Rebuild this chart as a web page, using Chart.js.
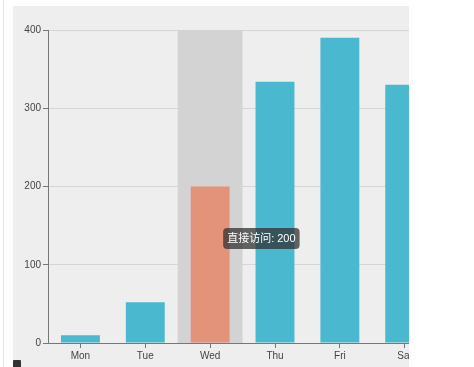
<!DOCTYPE html>
<html>
<head>
<meta charset="utf-8">
<script src="https://cdn.jsdelivr.net/npm/chart.js@4.4.1/dist/chart.umd.min.js"></script>
<style>
    body { margin: 0; background: #fff; width: 474px; height: 367px; position: relative; overflow: hidden; }
    #edge { position: absolute; left: 3px; top: 0; width: 1px; height: 367px; background: #e4e4e4; }
    #panel { position: absolute; left: 13px; top: 6px; width: 396px; height: 361px; background: #eeeeee; overflow: hidden; }
    #box { position: absolute; left: 0; top: 0; width: 489px; height: 361px; }
    #icon { position: absolute; left: 13px; top: 360px; width: 8px; height: 8px; background: #333; border-radius: 1px; }
</style>
</head>
<body>
<div id="edge"></div>
<div id="panel">
    <div id="box"><canvas id="barChart"></canvas></div>
</div>
<div id="icon"></div>
<script>
const days = ['Mon', 'Tue', 'Wed', 'Thu', 'Fri', 'Sat', 'Sun'];
const visits = [10, 52, 200, 334, 390, 330, 220];
const yTicks = [0, 100, 200, 300, 400];
const seriesName = '直接访问';
const hoverIndex = 2;

// grey band behind the hovered category
const shadowBand = {
    id: 'shadowBand',
    beforeDatasetsDraw(chart) {
        const active = chart.getActiveElements();
        if (!active.length) return;
        const xs = chart.scales.x;
        const area = chart.chartArea;
        const bw = xs.width / days.length;
        const ctx = chart.ctx;
        ctx.save();
        ctx.fillStyle = '#d3d3d3';
        active.forEach(a => {
            const cx = xs.getPixelForValue(a.index);
            ctx.fillRect(cx - bw / 2, area.top, bw, area.bottom - area.top);
        });
        ctx.restore();
    }
};

Chart.Tooltip.positioners.nearMouse = function(elements) {
    if (!elements.length) return false;
    const el = elements[0].element;
    return { x: el.x + 13, y: el.y + 52 };
};

const ctx = document.getElementById('barChart').getContext('2d');
const chart = new Chart(ctx, {
    type: 'bar',
    data: {
        labels: days,
        datasets: [{
            label: seriesName,
            data: visits,
            backgroundColor: '#4ab8cf',
            hoverBackgroundColor: '#e2937a',
            borderWidth: 0,
            barPercentage: 0.6,
            categoryPercentage: 1
        }]
    },
    options: {
        responsive: true,
        maintainAspectRatio: false,
        animation: false,
        events: [],
        layout: { padding: { top: 24, left: 0, right: 0, bottom: 0 } },
        plugins: {
            legend: { display: false },
            tooltip: {
                position: 'nearMouse',
                xAlign: 'left',
                yAlign: 'center',
                caretSize: 0,
                caretPadding: 0,
                displayColors: false,
                backgroundColor: 'rgba(50,50,50,0.75)',
                cornerRadius: 4,
                padding: { x: 4, y: 4 },
                bodyFont: { family: 'Liberation Sans, "Noto Sans CJK SC", sans-serif', size: 11 },
                bodyColor: '#fff',
                callbacks: {
                    title: () => '',
                    label: (item) => item.dataset.label + ': ' + item.raw
                }
            }
        },
        scales: {
            x: {
                offset: true,
                afterFit: (s) => { s.height = 24; },
                grid: { display: true, drawOnChartArea: false, offset: false, tickLength: 5, tickColor: '#777' },
                border: { color: '#777' },
                ticks: { color: '#444', padding: 2, font: { family: 'Liberation Sans', size: 10 } }
            },
            y: {
                min: yTicks[0],
                max: yTicks[yTicks.length - 1],
                afterFit: (s) => { s.width = 35; },
                afterBuildTicks: (s) => { s.ticks = yTicks.map(v => ({ value: v })); },
                grid: { color: '#d6d6d6', tickLength: 5, tickColor: '#777' },
                border: { color: '#777' },
                ticks: { color: '#444', padding: 2, font: { family: 'Liberation Sans', size: 10 } }
            }
        }
    },
    plugins: [shadowBand]
});

const act = [{ datasetIndex: 0, index: hoverIndex }];
chart.setActiveElements(act);
chart.tooltip.setActiveElements(act, { x: 0, y: 0 });
chart.update();
</script>
</body>
</html>
